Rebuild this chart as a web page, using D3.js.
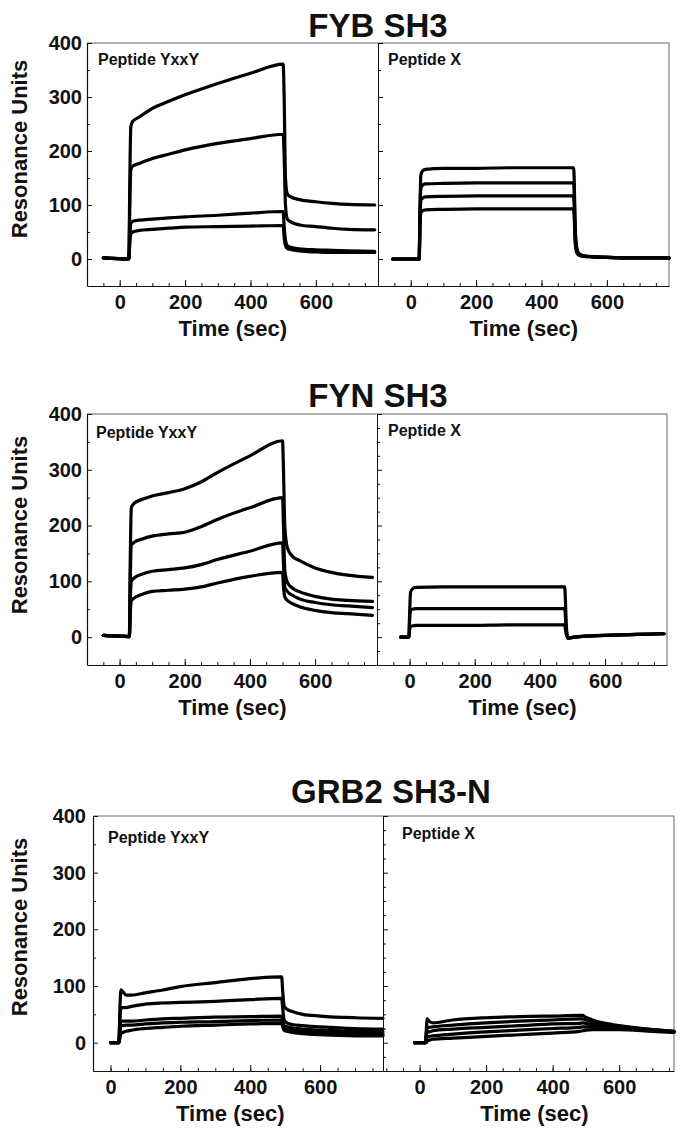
<!DOCTYPE html>
<html>
<head>
<meta charset="utf-8">
<script src="https://cdn.jsdelivr.net/npm/d3@7"></script>
<style>
  html, body { margin: 0; padding: 0; background: #fff; }
  svg { display: block; font-family: "Liberation Sans", Arial, Helvetica, sans-serif; }
</style>
</head>
<body>
<svg id="chart" width="685" height="1131"></svg>
<script>
// ---------------- DATA ----------------
const titles = ["FYB SH3", "FYN SH3", "GRB2 SH3-N"];
const peptideLabels = ["Peptide YxxY", "Peptide X"];
const yAxisTitle = "Resonance Units";
const xAxisTitle = "Time (sec)";
const xTickValues = [0, 200, 400, 600];
const yTickValues = [0, 100, 200, 300, 400];

// FYB SH3 - Peptide YxxY
const fybYxxY_time = [-50, 28, 31, 34, 40, 60, 100, 150, 200, 300, 400, 500, 503, 507, 512, 520, 550, 600, 650, 700, 780];
const fybYxxY_1 = [2, 0, 150, 245, 255, 263, 279, 292, 304, 325, 344, 361, 300, 150, 122, 116, 110, 106, 103, 101, 100];
const fybYxxY_2 = [2, 0, 100, 165, 172, 177, 186, 194, 202, 214, 223, 231, 190, 100, 75, 70, 63, 60, 57, 55, 54];
const fybYxxY_3 = [2, 0, 40, 66, 70, 72, 74, 76, 78, 81, 85, 88, 60, 35, 25, 22, 19, 17, 16, 15, 14];
const fybYxxY_4 = [2, 0, 30, 46, 50, 53, 55, 57, 59, 60, 61, 62, 40, 25, 20, 18, 15, 13, 12, 12, 12];

// FYB SH3 - Peptide X
const fybX_time = [-55, 26, 28, 31, 35, 45, 100, 200, 300, 400, 498, 500, 503, 508, 515, 530, 560, 600, 700, 790];
const fybX_1 = [0, 0, 80, 155, 162, 166, 168, 168, 169, 169, 169, 150, 60, 20, 10, 6, 4, 3, 2, 2];
const fybX_2 = [0, 0, 70, 130, 136, 139, 140, 141, 141, 141, 141, 125, 50, 18, 9, 6, 4, 3, 2, 2];
const fybX_3 = [0, 0, 60, 108, 112, 115, 116, 117, 117, 117, 117, 100, 40, 15, 8, 5, 4, 3, 2, 2];
const fybX_4 = [0, 0, 50, 85, 89, 91, 92, 93, 93, 93, 93, 80, 30, 12, 7, 5, 4, 3, 2, 2];

// FYN SH3 - Peptide YxxY
const fynYxxY_time = [-50, 30, 33, 36, 45, 70, 100, 150, 200, 250, 300, 400, 500, 503, 507, 515, 530, 550, 600, 650, 700, 776];
const fynYxxY_1 = [3, 1, 150, 232, 240, 247, 253, 259, 266, 278, 295, 325, 352, 300, 200, 160, 145, 138, 124, 116, 111, 107];
const fynYxxY_2 = [3, 1, 110, 165, 170, 176, 181, 185, 188, 198, 211, 232, 250, 200, 120, 98, 88, 82, 73, 68, 66, 64];
const fynYxxY_3 = [3, 1, 70, 100, 106, 113, 118, 121, 124, 130, 139, 154, 169, 130, 90, 82, 75, 69, 62, 58, 56, 53];
const fynYxxY_4 = [3, 1, 45, 65, 70, 77, 82, 84, 86, 90, 97, 109, 116, 90, 72, 66, 60, 55, 48, 44, 42, 39];

// FYN SH3 - Peptide X
const fynX_time = [-28, -2, 0, 3, 8, 20, 100, 200, 300, 400, 476, 478, 481, 486, 495, 520, 600, 700, 781];
const fynX_1 = [0, 0, 40, 80, 86, 89, 90, 90, 90, 90, 90, 70, 20, -2, -1, 1, 3, 5, 6];
const fynX_2 = [0, 0, 30, 48, 50, 51, 51, 51, 51, 51, 51, 40, 12, -2, -1, 1, 3, 5, 6];
const fynX_3 = [0, 0, 12, 19, 20, 21, 21, 21, 22, 22, 22, 15, 5, -2, -1, 1, 3, 5, 6];

// GRB2 SH3-N - Peptide YxxY
const grbYxxY_time = [0, 24, 27, 30, 35, 45, 60, 100, 150, 200, 300, 400, 490, 493, 497, 505, 520, 550, 600, 700, 780];
const grbYxxY_1 = [0, 0, 60, 93, 90, 84, 84, 88, 93, 99, 106, 113, 116, 90, 65, 59, 55, 50, 47, 44, 43];
const grbYxxY_2 = [0, 0, 40, 62, 62, 62, 64, 68, 70, 71, 73, 76, 78, 60, 40, 35, 32, 30, 28, 25, 24];
const grbYxxY_3 = [0, 0, 25, 38, 38, 38, 38, 40, 42, 43, 45, 46, 47, 38, 30, 28, 26, 24, 22, 20, 19];
const grbYxxY_4 = [0, 0, 18, 30, 30, 31, 31, 33, 35, 36, 37, 39, 40, 32, 26, 24, 22, 20, 18, 16, 15];
const grbYxxY_5 = [0, 0, 8, 16, 18, 20, 22, 25, 27, 29, 31, 33, 34, 28, 22, 20, 18, 16, 14, 12, 12];

// GRB2 SH3-N - Peptide X
const grbX_time = [-15, 18, 20, 23, 28, 40, 100, 200, 300, 400, 480, 490, 500, 520, 560, 600, 700, 765];
const grbX_1 = [0, 0, 20, 42, 38, 35, 40, 44, 46, 47, 48, 48, 45, 40, 34, 30, 23, 20];
const grbX_2 = [0, 0, 15, 28, 27, 28, 31, 35, 38, 40, 42, 42, 40, 37, 32, 29, 23, 20];
const grbX_3 = [0, 0, 10, 20, 19, 21, 24, 27, 30, 33, 34, 35, 34, 32, 29, 27, 22, 19];
const grbX_4 = [0, 0, 5, 10, 11, 12, 15, 19, 22, 25, 27, 28, 28, 28, 27, 25, 21, 19];
const grbX_5 = [0, 0, 0, 3, 4, 6, 8, 11, 14, 17, 20, 21, 22, 23, 23, 23, 20, 18];

// ---------------- LAYOUT ----------------
const rows = [
  { title: titles[0], titleX: 378, titleY: 37, top: 43, bottom: 286,
    left:  { x0: 87, x1: 378, dom: [-100, 790], ticks: 50 },
    right: { x0: 378, x1: 669, dom: [-100, 790], ticks: 50 },
    labY: [59, 59], labX: [98, 388],
    yTitleY: 149, yLabOff: 5,
    panels: [[fybYxxY_time, [fybYxxY_1, fybYxxY_2, fybYxxY_3, fybYxxY_4]],
             [fybX_time, [fybX_1, fybX_2, fybX_3, fybX_4]]] },
  { title: titles[1], titleX: 378, titleY: 407, top: 414, bottom: 665,
    left:  { x0: 87, x1: 377, dom: [-100, 790], ticks: 50 },
    right: { x0: 377, x1: 667, dom: [-100, 790], ticks: 25 },
    labY: [432, 430], labX: [96, 388],
    yTitleY: 525, yLabOff: 5,
    panels: [[fynYxxY_time, [fynYxxY_1, fynYxxY_2, fynYxxY_3, fynYxxY_4]],
             [fynX_time, [fynX_1, fynX_2, fynX_3]]] },
  { title: titles[2], titleX: 391, titleY: 803, top: 816, bottom: 1071,
    left:  { x0: 93, x1: 383, dom: [-50, 780], ticks: 50 },
    right: { x0: 383, x1: 674, dom: [-110, 765], ticks: 25 },
    labY: [837, 833], labX: [108, 402],
    yTitleY: 927, yLabOff: 7,
    panels: [[grbYxxY_time, [grbYxxY_1, grbYxxY_2, grbYxxY_3, grbYxxY_4, grbYxxY_5]],
             [grbX_time, [grbX_1, grbX_2, grbX_3, grbX_4, grbX_5]]] }
];

const svg = d3.select("#chart");
const ink = "#111";

rows.forEach(row => {
  const g = svg.append("g");
  const y = d3.scaleLinear().domain([-50, 400]).range([row.bottom, row.top]);

  // Title
  g.append("text").attr("x", row.titleX).attr("y", row.titleY)
    .attr("text-anchor", "middle").attr("font-size", 33).attr("font-weight", "bold")
    .attr("fill", ink).text(row.title);

  // Y axis title
  g.append("text")
    .attr("transform", `translate(27,${row.yTitleY}) rotate(-90)`)
    .attr("text-anchor", "middle").attr("font-size", 22).attr("font-weight", "bold")
    .attr("fill", ink).text(yAxisTitle);

  // Frame (top + far right)
  g.append("line").attr("x1", row.left.x0).attr("x2", row.right.x1)
    .attr("y1", row.top).attr("y2", row.top).attr("stroke", "#666").attr("stroke-width", 1);
  g.append("line").attr("x1", row.right.x1).attr("x2", row.right.x1)
    .attr("y1", row.top).attr("y2", row.bottom).attr("stroke", "#666").attr("stroke-width", 1);

  [row.left, row.right].forEach((p, pi) => {
    const x = d3.scaleLinear().domain(p.dom).range([p.x0, p.x1]);
    const [time, seriesList] = row.panels[pi];

    // Minor x ticks (inward)
    const minorX = d3.range(Math.ceil(p.dom[0] / 50) * 50, p.dom[1] + 1, 50);
    const gxm = g.append("g").attr("transform", `translate(0,${row.bottom})`)
      .call(d3.axisBottom(x).tickValues(minorX).tickSize(-3).tickSizeOuter(0).tickFormat(""));
    gxm.select(".domain").attr("stroke", ink).attr("stroke-width", 1.2);
    gxm.selectAll(".tick line").attr("stroke", ink);

    // Major x ticks + labels
    const gx = g.append("g").attr("transform", `translate(0,${row.bottom})`)
      .call(d3.axisBottom(x).tickValues(xTickValues).tickSize(-6).tickSizeOuter(0).tickPadding(9));
    gx.select(".domain").remove();
    gx.selectAll(".tick line").attr("stroke", ink);
    gx.selectAll(".tick text").attr("font-size", 20).attr("font-weight", "bold")
      .attr("fill", ink).attr("font-family", "'Liberation Sans', Arial, sans-serif");

    // X axis title
    g.append("text").attr("x", (x(0) + x(600)) / 2 + 15).attr("y", row.bottom + 50)
      .attr("text-anchor", "middle").attr("font-size", 22).attr("font-weight", "bold")
      .attr("fill", ink).text(xAxisTitle);

    // Y axis (left edge of each panel), inward ticks
    const minorY = d3.range(-50 + p.ticks, 400, p.ticks).filter(v => v % 100 !== 0);
    const gym = g.append("g").attr("transform", `translate(${p.x0},0)`)
      .call(d3.axisLeft(y).tickValues(minorY).tickSize(-3).tickSizeOuter(0).tickFormat(""));
    gym.select(".domain").attr("stroke", ink).attr("stroke-width", pi === 0 ? 1.2 : 1);
    gym.selectAll(".tick line").attr("stroke", ink);

    const gy = g.append("g").attr("transform", `translate(${p.x0},0)`)
      .call(d3.axisLeft(y).tickValues(yTickValues).tickSize(-5).tickSizeOuter(0).tickPadding(row.yLabOff));
    gy.select(".domain").remove();
    gy.selectAll(".tick line").attr("stroke", ink);
    if (pi === 0) {
      gy.selectAll(".tick line").attr("x2", 5);
      gy.selectAll(".tick text").attr("x", -row.yLabOff).attr("font-size", 20).attr("font-weight", "bold")
        .attr("fill", ink).attr("font-family", "'Liberation Sans', Arial, sans-serif");
    } else {
      gy.selectAll(".tick text").remove();
    }

    // Peptide label
    g.append("text").attr("x", row.labX[pi]).attr("y", row.labY[pi] + 5.5)
      .attr("font-size", 16).attr("font-weight", "bold").attr("fill", ink)
      .text(peptideLabels[pi]);

    // Curves
    const line = d3.line()
      .x((d, i) => x(time[i]))
      .y(d => y(d))
      .curve(d3.curveMonotoneX);
    seriesList.forEach(s => {
      g.append("path").attr("d", line(s))
        .attr("fill", "none").attr("stroke", "#000")
        .attr("stroke-width", 3.2).attr("stroke-linejoin", "round").attr("stroke-linecap", "round");
    });
  });
});
</script>
</body>
</html>
